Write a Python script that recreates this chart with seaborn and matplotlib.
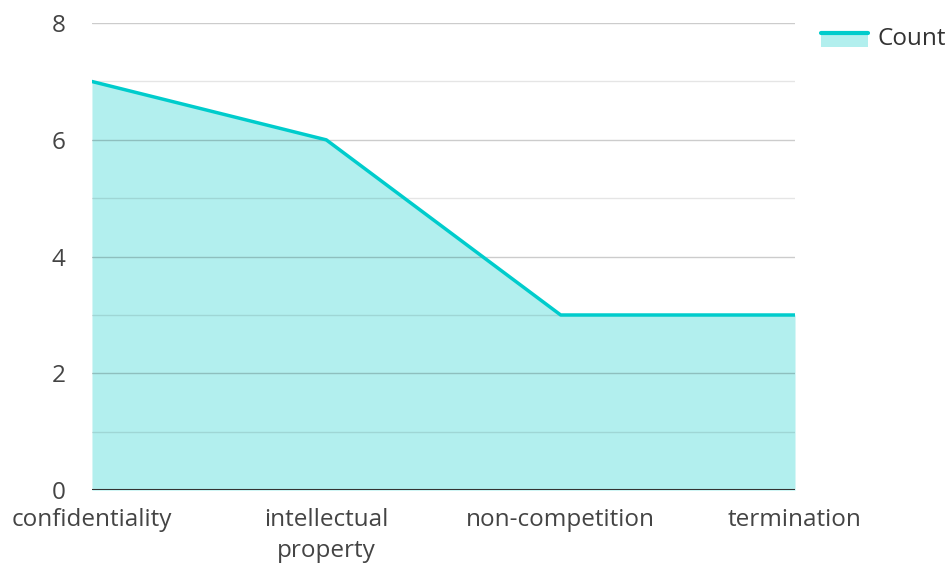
import matplotlib
matplotlib.use("Agg")
import matplotlib.pyplot as plt
import seaborn as sns
import pandas as pd
from matplotlib.patches import Rectangle
from matplotlib.lines import Line2D

categories = ["confidentiality", "intellectual property", "non-competition", "termination"]
tick_labels = ["confidentiality", "intellectual\nproperty", "non-competition", "termination"]
counts = [7, 6, 3, 3]

line_color = "#00cccc"
fill_color = "#b2efee"

sns.set_theme(style="white")
plt.rcParams["font.family"] = ["Open Sans", "DejaVu Sans"]

df = pd.DataFrame({"pos": range(len(categories)), "category": categories, "Count": counts})

fig = plt.figure(figsize=(9.52, 5.64), dpi=100)
ax = fig.add_axes([0.0966, 0.131, 0.7385, 0.828])

ax.fill_between(df["pos"], 0, df["Count"], color=fill_color, linewidth=0, zorder=2)
sns.lineplot(data=df, x="pos", y="Count", ax=ax, color=line_color, linewidth=2.5, zorder=4)

ax.set_xlim(0, len(categories) - 1)
ax.set_ylim(0, 8)

# grid drawn over the fill: major at even values, lighter minor at odd values
for v in range(1, 9):
    ax.axhline(v, color="black", alpha=0.2 if v % 2 == 0 else 0.1, linewidth=1, zorder=3)
ax.axhline(0, color="#333333", linewidth=1.5, zorder=5)

ax.set_yticks([0, 2, 4, 6, 8])
ax.set_xticks(df["pos"])
ax.set_xticklabels(tick_labels)
ax.tick_params(axis="y", length=0, pad=19, labelsize=17.5, labelcolor="#444444")
ax.tick_params(axis="x", length=0, pad=13, labelsize=17.5, labelcolor="#444444")
for lab in ax.get_xticklabels():
    lab.set_linespacing(1.4)
ax.set_xlabel("")
ax.set_ylabel("")
sns.despine(ax=ax, left=True, bottom=True, top=True, right=True)


class AreaHandler:
    def legend_artist(self, legend, orig_handle, fontsize, handlebox):
        x0, y0 = handlebox.xdescent, handlebox.ydescent
        w, h = handlebox.width, handlebox.height
        top = y0 + h * 0.75
        bottom = y0 - h * 0.1
        patch = Rectangle((x0, bottom), w, top - bottom, facecolor=fill_color,
                          edgecolor="none", transform=handlebox.get_transform())
        line = Line2D([x0, x0 + w], [top, top], color=line_color, linewidth=3,
                      transform=handlebox.get_transform())
        handlebox.add_artist(patch)
        handlebox.add_artist(line)
        return patch


marker = object()
leg = fig.legend([marker], ["Count"], handler_map={object: AreaHandler()},
                 loc="upper left", bbox_to_anchor=(0.857, 0.96), frameon=False,
                 fontsize=17.5, handlelength=1.95, handletextpad=0.4,
                 borderpad=0.2, borderaxespad=0)
for t in leg.get_texts():
    t.set_color("#333333")

fig.savefig("out.png", dpi=100)
